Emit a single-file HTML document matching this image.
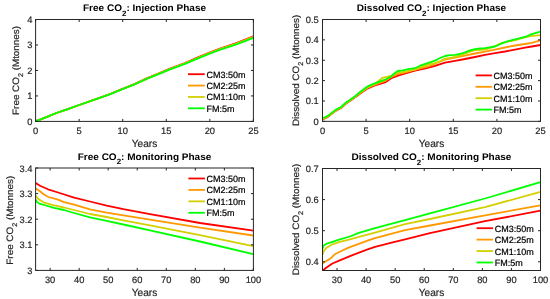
<!DOCTYPE html><html><head><meta charset="utf-8"><style>
html,body{margin:0;padding:0;background:#fff;width:550px;height:299px;overflow:hidden}
svg{display:block}
text{font-family:'Liberation Sans', Arial, Helvetica, sans-serif;text-rendering:geometricPrecision}
.t{font-size:9.3px;fill:rgb(38,38,38);stroke:rgb(38,38,38);stroke-width:0.2}
.l{fill:rgb(38,38,38);stroke:rgb(38,38,38);stroke-width:0.2}
.ti{font-size:9.6px;font-weight:bold;fill:#000}
.lg{font-size:9px;fill:#000;stroke:#000;stroke-width:0.2}
</style></head><body>
<svg width="550" height="299" viewBox="0 0 550 299">
<rect width="550" height="299" fill="#fff"/>
<clipPath id="c1"><rect x="35.6" y="19.5" width="217.8" height="101.9"/></clipPath>
<g clip-path="url(#c1)" fill="none" stroke-width="1.8" stroke-linejoin="round" stroke-linecap="butt">
<polyline stroke="#ff0000" points="35.6,121.3 45.7,117.3 56.4,113 67.1,109.3 77.8,105.5 85,103 96.7,98.9 108.4,94.72 120.1,89.9 135,83.86 146.7,78.44 158.4,73.53 170.1,68.61 185,62.97 196.7,57.95 208.4,53.04 220.1,48.53 235,43.58 253.4,36.4"/>
<polyline stroke="#ff9900" points="35.6,121.3 45.7,117.3 56.4,113 67.1,109.3 77.8,105.5 85,103 96.7,98.9 108.4,94.75 120.1,89.97 135,83.97 146.7,78.6 158.4,73.72 170.1,68.84 185,63.25 196.7,58.27 208.4,53.39 220.1,48.92 235,44.02 253.4,36.9"/>
<polyline stroke="#d4d000" points="35.6,121.3 45.7,117.3 56.4,113 67.1,109.3 77.8,105.5 85,103 96.7,98.9 108.4,94.77 120.1,90.03 135,84.09 146.7,78.75 158.4,73.91 170.1,69.07 185,63.52 196.7,58.58 208.4,53.75 220.1,49.31 235,44.46 253.4,37.4"/>
<polyline stroke="#00ff00" points="35.6,121.3 45.7,117.3 56.4,113 67.1,109.3 77.8,105.5 85,103 96.7,98.9 108.4,94.8 120.1,90.1 135,84.2 146.7,78.9 158.4,74.1 170.1,69.3 185,63.8 196.7,58.9 208.4,54.1 220.1,49.7 235,44.9 253.4,37.9"/>
</g>
<rect x="35.6" y="19.5" width="217.8" height="101.9" fill="none" stroke="rgb(38,38,38)" stroke-width="1"/>
<path d="M35.6 121.4v-2.5M35.6 19.5v2.5M79.16 121.4v-2.5M79.16 19.5v2.5M122.72 121.4v-2.5M122.72 19.5v2.5M166.28 121.4v-2.5M166.28 19.5v2.5M209.84 121.4v-2.5M209.84 19.5v2.5M253.4 121.4v-2.5M253.4 19.5v2.5M35.6 121.4h2.5M253.4 121.4h-2.5M35.6 95.93h2.5M253.4 95.93h-2.5M35.6 70.45h2.5M253.4 70.45h-2.5M35.6 44.97h2.5M253.4 44.97h-2.5M35.6 19.5h2.5M253.4 19.5h-2.5" stroke="rgb(38,38,38)" stroke-width="1" fill="none"/>
<text class="t" x="35.6" y="134" text-anchor="middle">0</text>
<text class="t" x="79.16" y="134" text-anchor="middle">5</text>
<text class="t" x="122.72" y="134" text-anchor="middle">10</text>
<text class="t" x="166.28" y="134" text-anchor="middle">15</text>
<text class="t" x="209.84" y="134" text-anchor="middle">20</text>
<text class="t" x="253.4" y="134" text-anchor="middle">25</text>
<text class="t" x="32.5" y="124.9" text-anchor="end">0</text>
<text class="t" x="32.5" y="99.43" text-anchor="end">1</text>
<text class="t" x="32.5" y="73.95" text-anchor="end">2</text>
<text class="t" x="32.5" y="48.47" text-anchor="end">3</text>
<text class="t" x="32.5" y="23" text-anchor="end">4</text>
<text class="l" style="font-size:10.4px" transform="translate(144.5 147.1) scale(0.975 1)" text-anchor="middle">Years</text>
<text class="l" style="font-size:9.3px" transform="translate(18.5 70.45) rotate(-90) scale(1.06 1)" text-anchor="middle">Free CO<tspan style="font-size:6.8px" dy="4.3">2</tspan><tspan dy="-4.3"> (Mtonnes)</tspan></text>
<text class="ti" transform="translate(144.5 11.2) scale(1.045 1)" text-anchor="middle">Free CO<tspan style="font-size:7.6px" dy="4.4">2</tspan><tspan dy="-4.4">: Injection Phase</tspan></text>
<line x1="188" y1="74.2" x2="204.8" y2="74.2" stroke="#ff0000" stroke-width="1.8"/>
<text class="lg" x="206.6" y="77.7">CM3:50m</text>
<line x1="188" y1="85.57" x2="204.8" y2="85.57" stroke="#ff9900" stroke-width="1.8"/>
<text class="lg" x="206.6" y="89.07">CM2:25m</text>
<line x1="188" y1="96.94" x2="204.8" y2="96.94" stroke="#d4d000" stroke-width="1.8"/>
<text class="lg" x="206.6" y="100.44">CM1:10m</text>
<line x1="188" y1="108.31" x2="204.8" y2="108.31" stroke="#00ff00" stroke-width="1.8"/>
<text class="lg" x="206.6" y="111.81">FM:5m</text>
<clipPath id="c2"><rect x="322.5" y="19.5" width="218" height="101.85"/></clipPath>
<g clip-path="url(#c2)" fill="none" stroke-width="1.8" stroke-linejoin="round" stroke-linecap="butt">
<polyline stroke="#ff0000" points="322.5,119.2 325.6,118.2 329.8,115.4 335.5,110.9 341.1,108 346,103.5 350.2,100.7 355.1,97.2 361,93 367.8,88.3 375,85.3 385.7,82.1 392.1,77.8 398,75.6 407.1,73 415,70.6 425.6,68.4 435,65.9 445,62.6 455,60.9 465,59 475,57 485,54.8 495,53.1 505,51.5 515,49.6 525,47.6 531.8,46.5 540.4,45"/>
<polyline stroke="#ff9900" points="322.5,119 325.6,118 329.8,115.2 335.5,110.7 341.1,107.8 346,103.3 350.2,100.5 355.1,97 361,92.4 367.8,87.6 375,84.6 385.7,80.6 392.1,76.6 398,74 407.1,71.9 415,69.6 425.6,67.2 430,65.8 440,61.5 445,59.6 455,57.6 465,55.6 475,53.5 485,51.7 495,49.6 505,47.5 515,45.5 525,44 531.8,42.9 537,41.4 540.4,40.4"/>
<polyline stroke="#d4d000" points="322.5,118.6 325.6,117.6 329.8,114.8 335.5,110.3 341.1,107.4 346,102.9 350.2,100.1 355.1,96.6 361,92 367.8,87 375,84 382.5,77.8 387.8,76.7 392,75.5 398,72.2 402.8,72 408.2,70.8 415,69.6 420,67.4 428.4,64.4 435,63.2 440,61.4 445,58.6 450,57.8 455,56.8 460,55.6 465,53.6 470,51.6 475,50.2 480,49.9 485,49.6 492,47.5 500.9,43.4 509.3,41.3 517.7,39.5 526.2,37 530.4,36.2 540.4,35.2"/>
<polyline stroke="#00ff00" points="322.5,118.2 325.6,117.2 329.8,114.4 335.5,109.9 341.1,107 346,102.5 350.2,99.7 355.1,96.2 360.7,91.5 367.8,86.3 373.4,83.9 380.3,81.3 385.7,79.4 390,77.3 394.3,73.5 398,70.8 402.8,70.3 408.2,69.2 415,68.2 420,65.7 428.4,62.9 435,60.6 440,58 445,56 450,55.2 455,54.8 460,54 465,52.3 470,50.4 475,49.2 480,48.5 485,48.1 495,46.5 500,44.2 505,42.2 510,40.6 515,39.3 520,38.1 525,37 531.8,34.2 540.4,31.6"/>
</g>
<rect x="322.5" y="19.5" width="218" height="101.85" fill="none" stroke="rgb(38,38,38)" stroke-width="1"/>
<path d="M322.5 121.35v-2.5M322.5 19.5v2.5M366.1 121.35v-2.5M366.1 19.5v2.5M409.7 121.35v-2.5M409.7 19.5v2.5M453.3 121.35v-2.5M453.3 19.5v2.5M496.9 121.35v-2.5M496.9 19.5v2.5M540.5 121.35v-2.5M540.5 19.5v2.5M322.5 121.35h2.5M540.5 121.35h-2.5M322.5 100.98h2.5M540.5 100.98h-2.5M322.5 80.61h2.5M540.5 80.61h-2.5M322.5 60.24h2.5M540.5 60.24h-2.5M322.5 39.87h2.5M540.5 39.87h-2.5M322.5 19.5h2.5M540.5 19.5h-2.5" stroke="rgb(38,38,38)" stroke-width="1" fill="none"/>
<text class="t" x="322.5" y="133.95" text-anchor="middle">0</text>
<text class="t" x="366.1" y="133.95" text-anchor="middle">5</text>
<text class="t" x="409.7" y="133.95" text-anchor="middle">10</text>
<text class="t" x="453.3" y="133.95" text-anchor="middle">15</text>
<text class="t" x="496.9" y="133.95" text-anchor="middle">20</text>
<text class="t" x="540.5" y="133.95" text-anchor="middle">25</text>
<text class="t" x="318.7" y="124.85" text-anchor="end">0</text>
<text class="t" x="318.7" y="104.48" text-anchor="end">0.1</text>
<text class="t" x="318.7" y="84.11" text-anchor="end">0.2</text>
<text class="t" x="318.7" y="63.74" text-anchor="end">0.3</text>
<text class="t" x="318.7" y="43.37" text-anchor="end">0.4</text>
<text class="t" x="318.7" y="23" text-anchor="end">0.5</text>
<text class="l" style="font-size:10.4px" transform="translate(431.5 147.05) scale(0.975 1)" text-anchor="middle">Years</text>
<text class="l" style="font-size:9.3px" transform="translate(298.7 70.42) rotate(-90) scale(1.06 1)" text-anchor="middle">Dissolved CO<tspan style="font-size:6.8px" dy="4.3">2</tspan><tspan dy="-4.3"> (Mtonnes)</tspan></text>
<text class="ti" transform="translate(431.5 11.2) scale(1.045 1)" text-anchor="middle">Dissolved CO<tspan style="font-size:7.6px" dy="4.4">2</tspan><tspan dy="-4.4">: Injection Phase</tspan></text>
<line x1="475.6" y1="75.4" x2="492.1" y2="75.4" stroke="#ff0000" stroke-width="1.8"/>
<text class="lg" x="493.6" y="78.9">CM3:50m</text>
<line x1="475.6" y1="86.8" x2="492.1" y2="86.8" stroke="#ff9900" stroke-width="1.8"/>
<text class="lg" x="493.6" y="90.3">CM2:25m</text>
<line x1="475.6" y1="98.2" x2="492.1" y2="98.2" stroke="#d4d000" stroke-width="1.8"/>
<text class="lg" x="493.6" y="101.7">CM1:10m</text>
<line x1="475.6" y1="109.6" x2="492.1" y2="109.6" stroke="#00ff00" stroke-width="1.8"/>
<text class="lg" x="493.6" y="113.1">FM:5m</text>
<clipPath id="c3"><rect x="35.6" y="168" width="217.8" height="102.4"/></clipPath>
<g clip-path="url(#c3)" fill="none" stroke-width="1.8" stroke-linejoin="round" stroke-linecap="butt">
<polyline stroke="#ff0000" points="35.7,182.9 40,185.8 48,189.3 58.1,192.5 74.1,197.6 90,201.5 106.7,205.6 123.4,209.2 150,214.2 200,223 253.4,230.7"/>
<polyline stroke="#ff9900" points="35.7,188.6 40,191.3 43.6,194.3 48.5,197 58.1,199.7 64,202.1 74.1,204.7 90,209.4 106.7,212.6 123.4,215.3 150,219.6 200,227.7 253.2,235.5"/>
<polyline stroke="#d4d000" points="35.7,195.5 37,197.5 39.4,199.8 43.6,202.3 52,204.8 64,207.5 90,214 106.7,217 123.4,220.3 150,225.3 200,235.1 253.2,246.1"/>
<polyline stroke="#00ff00" points="35.7,199.7 37,202.1 40,203.9 46,205.5 54,207.8 64,210 74.1,213 90,217.4 106.7,220.9 123.4,224.5 150,230.3 200,241.5 253.2,254.2"/>
</g>
<rect x="35.6" y="168" width="217.8" height="102.4" fill="none" stroke="rgb(38,38,38)" stroke-width="1"/>
<path d="M50.12 270.4v-2.5M50.12 168v2.5M79.16 270.4v-2.5M79.16 168v2.5M108.2 270.4v-2.5M108.2 168v2.5M137.24 270.4v-2.5M137.24 168v2.5M166.28 270.4v-2.5M166.28 168v2.5M195.32 270.4v-2.5M195.32 168v2.5M224.36 270.4v-2.5M224.36 168v2.5M253.4 270.4v-2.5M253.4 168v2.5M35.6 270.4h2.5M253.4 270.4h-2.5M35.6 244.8h2.5M253.4 244.8h-2.5M35.6 219.2h2.5M253.4 219.2h-2.5M35.6 193.6h2.5M253.4 193.6h-2.5M35.6 168h2.5M253.4 168h-2.5" stroke="rgb(38,38,38)" stroke-width="1" fill="none"/>
<text class="t" x="50.12" y="283" text-anchor="middle">30</text>
<text class="t" x="79.16" y="283" text-anchor="middle">40</text>
<text class="t" x="108.2" y="283" text-anchor="middle">50</text>
<text class="t" x="137.24" y="283" text-anchor="middle">60</text>
<text class="t" x="166.28" y="283" text-anchor="middle">70</text>
<text class="t" x="195.32" y="283" text-anchor="middle">80</text>
<text class="t" x="224.36" y="283" text-anchor="middle">90</text>
<text class="t" x="253.4" y="283" text-anchor="middle">100</text>
<text class="t" x="32.5" y="273.9" text-anchor="end">3</text>
<text class="t" x="32.5" y="248.3" text-anchor="end">3.1</text>
<text class="t" x="32.5" y="222.7" text-anchor="end">3.2</text>
<text class="t" x="32.5" y="197.1" text-anchor="end">3.3</text>
<text class="t" x="32.5" y="171.5" text-anchor="end">3.4</text>
<text class="l" style="font-size:10.4px" transform="translate(144.5 296.1) scale(0.975 1)" text-anchor="middle">Years</text>
<text class="l" style="font-size:9.3px" transform="translate(12.5 220.2) rotate(-90) scale(1.06 1)" text-anchor="middle">Free CO<tspan style="font-size:6.8px" dy="4.3">2</tspan><tspan dy="-4.3"> (Mtonnes)</tspan></text>
<text class="ti" transform="translate(144.5 159.7) scale(1.045 1)" text-anchor="middle">Free CO<tspan style="font-size:7.6px" dy="4.4">2</tspan><tspan dy="-4.4">: Monitoring Phase</tspan></text>
<line x1="188.4" y1="178.5" x2="204.9" y2="178.5" stroke="#ff0000" stroke-width="1.8"/>
<text class="lg" x="206.6" y="182">CM3:50m</text>
<line x1="188.4" y1="189.93" x2="204.9" y2="189.93" stroke="#ff9900" stroke-width="1.8"/>
<text class="lg" x="206.6" y="193.43">CM2:25m</text>
<line x1="188.4" y1="201.36" x2="204.9" y2="201.36" stroke="#d4d000" stroke-width="1.8"/>
<text class="lg" x="206.6" y="204.86">CM1:10m</text>
<line x1="188.4" y1="212.79" x2="204.9" y2="212.79" stroke="#00ff00" stroke-width="1.8"/>
<text class="lg" x="206.6" y="216.29">FM:5m</text>
<clipPath id="c4"><rect x="322.5" y="168.5" width="218" height="102"/></clipPath>
<g clip-path="url(#c4)" fill="none" stroke-width="1.8" stroke-linejoin="round" stroke-linecap="butt">
<polyline stroke="#ff0000" points="322.5,270.8 326.2,267.8 332.4,263.5 339.8,260.4 350,256.1 367.6,249.3 375,246.8 391.7,242.6 405.1,239.3 430,233.2 485,221.2 540.4,210.7"/>
<polyline stroke="#ff9900" points="322.5,263.5 326.2,261 331.2,257.9 334.9,254.2 339.8,251.7 348.6,247.6 367.6,240.7 375,238.1 405.1,230.1 430,225.5 485,215.4 540.4,205.3"/>
<polyline stroke="#d4d000" points="322.5,254.8 323.7,251.1 326.2,248 332.4,244.3 339.8,241.8 350,239.3 358.1,237.2 375,232.6 405.1,224.2 430,219 485,207.2 540.4,191.9"/>
<polyline stroke="#00ff00" points="322.5,248.6 323.7,245.5 326.2,243.9 332.4,241.8 339.8,239.3 350,236.5 358.1,233.1 375,228.1 405.1,220.1 430,213.3 485,198.5 540.4,182.1"/>
</g>
<rect x="322.5" y="168.5" width="218" height="102" fill="none" stroke="rgb(38,38,38)" stroke-width="1"/>
<path d="M337.03 270.5v-2.5M337.03 168.5v2.5M366.1 270.5v-2.5M366.1 168.5v2.5M395.17 270.5v-2.5M395.17 168.5v2.5M424.23 270.5v-2.5M424.23 168.5v2.5M453.3 270.5v-2.5M453.3 168.5v2.5M482.37 270.5v-2.5M482.37 168.5v2.5M511.43 270.5v-2.5M511.43 168.5v2.5M540.5 270.5v-2.5M540.5 168.5v2.5M322.5 261.8h2.5M540.5 261.8h-2.5M322.5 230.7h2.5M540.5 230.7h-2.5M322.5 199.6h2.5M540.5 199.6h-2.5M322.5 168.5h2.5M540.5 168.5h-2.5" stroke="rgb(38,38,38)" stroke-width="1" fill="none"/>
<text class="t" x="337.03" y="283.1" text-anchor="middle">30</text>
<text class="t" x="366.1" y="283.1" text-anchor="middle">40</text>
<text class="t" x="395.17" y="283.1" text-anchor="middle">50</text>
<text class="t" x="424.23" y="283.1" text-anchor="middle">60</text>
<text class="t" x="453.3" y="283.1" text-anchor="middle">70</text>
<text class="t" x="482.37" y="283.1" text-anchor="middle">80</text>
<text class="t" x="511.43" y="283.1" text-anchor="middle">90</text>
<text class="t" x="540.5" y="283.1" text-anchor="middle">100</text>
<text class="t" x="318.7" y="265.3" text-anchor="end">0.4</text>
<text class="t" x="318.7" y="234.2" text-anchor="end">0.5</text>
<text class="t" x="318.7" y="203.1" text-anchor="end">0.6</text>
<text class="t" x="318.7" y="172" text-anchor="end">0.7</text>
<text class="l" style="font-size:10.4px" transform="translate(431.5 296.2) scale(0.975 1)" text-anchor="middle">Years</text>
<text class="l" style="font-size:9.3px" transform="translate(298.7 219.5) rotate(-90) scale(1.06 1)" text-anchor="middle">Dissolved CO<tspan style="font-size:6.8px" dy="4.3">2</tspan><tspan dy="-4.3"> (Mtonnes)</tspan></text>
<text class="ti" transform="translate(431.5 160.2) scale(1.045 1)" text-anchor="middle">Dissolved CO<tspan style="font-size:7.6px" dy="4.4">2</tspan><tspan dy="-4.4">: Monitoring Phase</tspan></text>
<line x1="476.6" y1="228.2" x2="493.1" y2="228.2" stroke="#ff0000" stroke-width="1.8"/>
<text class="lg" x="494.8" y="231.7">CM3:50m</text>
<line x1="476.6" y1="239.63" x2="493.1" y2="239.63" stroke="#ff9900" stroke-width="1.8"/>
<text class="lg" x="494.8" y="243.13">CM2:25m</text>
<line x1="476.6" y1="251.06" x2="493.1" y2="251.06" stroke="#d4d000" stroke-width="1.8"/>
<text class="lg" x="494.8" y="254.56">CM1:10m</text>
<line x1="476.6" y1="262.49" x2="493.1" y2="262.49" stroke="#00ff00" stroke-width="1.8"/>
<text class="lg" x="494.8" y="265.99">FM:5m</text>
</svg></body></html>
